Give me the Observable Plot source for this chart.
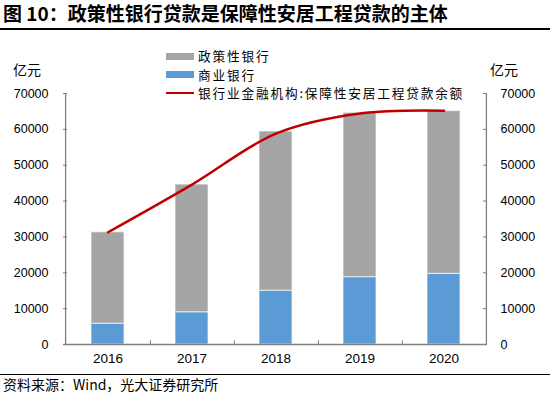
<!DOCTYPE html>
<html><head><meta charset="utf-8">
<script src="https://cdn.jsdelivr.net/npm/d3@7"></script>
<script src="https://cdn.jsdelivr.net/npm/@observablehq/plot@0.6"></script>
<style>
body{margin:0;background:#fff;}
#wrap{position:relative;width:550px;height:394px;overflow:hidden;font-family:"Noto Sans CJK SC","Noto Sans",sans-serif;color:#000;}
#title{position:absolute;left:3px;top:1px;font-size:19px;font-weight:bold;line-height:24px;white-space:nowrap;}
#trule{position:absolute;left:0;top:28px;width:550px;height:2px;background:#000;}
#chart{position:absolute;left:0;top:30px;}
.unit{position:absolute;top:60px;font-size:14px;line-height:18px;}
.leg{position:absolute;left:166px;height:18px;white-space:nowrap;}
.leg .sw{position:absolute;left:0;width:28px;}
.leg .t{position:absolute;left:32px;top:0;height:18px;font-size:12.7px;letter-spacing:1.8px;line-height:18px;}
#crule{position:absolute;left:0;top:374px;width:550px;height:1px;background:#000;}
#caption{position:absolute;left:3px;top:375px;font-size:14px;line-height:18px;white-space:nowrap;}
</style></head><body>
<div id="wrap">
<div id="title">图 10：政策性银行贷款是保障性安居工程贷款的主体</div>
<div id="trule"></div>
<div id="chart"></div>
<div class="unit" style="left:13px">亿元</div>
<div class="unit" style="left:490px">亿元</div>
<div class="leg" style="top:47px"><div class="sw" style="top:5.5px;height:7px;background:#A5A5A5"></div><div class="t">政策性银行</div></div>
<div class="leg" style="top:65.5px"><div class="sw" style="top:5.5px;height:7px;background:#5B9BD5"></div><div class="t">商业银行</div></div>
<div class="leg" style="top:84px"><div class="sw" style="top:8px;height:2px;background:#C00000"></div><div class="t">银行业金融机构:保障性安居工程贷款余额</div></div>
<div id="crule"></div>
<div id="caption">资料来源：Wind，光大证券研究所</div>
</div>
<script>
const years = ["2016", "2017", "2018", "2019", "2020"];
const commercial = [5800, 9000, 15000, 18800, 19700];
const policy = [25500, 35600, 44400, 45800, 45400];
const balance = [31300, 44600, 58800, 64400, 65200];
const yTicks = [0, 10000, 20000, 30000, 40000, 50000, 60000, 70000];
const seriesNames = ["商业银行", "政策性银行"];
const seriesColors = ["#5B9BD5", "#A5A5A5"];

const rows = years.flatMap((y, i) => [
  {year: y, type: seriesNames[0], value: commercial[i]},
  {year: y, type: seriesNames[1], value: policy[i]}
]);
const lineRows = years.map((y, i) => ({year: y, value: balance[i]}));

const W = 550, H = 342, mL = 63, mR = 63, mT = 63, mB = 28;
const frameW = W - mL - mR;
const half = frameW / years.length / 2;
const axisColor = "#7f7f7f";
const numFont = "'Liberation Sans', Arial, sans-serif";

const chart = Plot.plot({
  width: W, height: H,
  marginLeft: mL, marginRight: mR, marginTop: mT, marginBottom: mB,
  style: {fontFamily: numFont, fontSize: "12.5px", color: "#000", background: "transparent"},
  x: {domain: years, paddingInner: 0.61, paddingOuter: 0.305, axis: null},
  y: {domain: [0, 70000], axis: null},
  color: {domain: seriesNames, range: seriesColors},
  marks: [
    Plot.barY(rows, {x: "year", y: "value", fill: "type", stroke: "white", strokeOpacity: 0.55, strokeWidth: 1.2}),
    Plot.line(lineRows, {x: "year", y: "value", stroke: "#C00000", strokeWidth: 2.5, curve: "catmull-rom"}),
    Plot.tickY(yTicks, {y: d => d, insetRight: frameW - 4, stroke: axisColor}),
    Plot.tickY(yTicks, {y: d => d, insetLeft: frameW - 4, stroke: axisColor}),
    Plot.ruleX([years[0]], {x: d => d, dx: -half, y1: 0, y2: 70000, stroke: axisColor, strokeWidth: 1.3}),
    Plot.ruleX([years[years.length - 1]], {x: d => d, dx: half, y1: 0, y2: 70000, stroke: axisColor, strokeWidth: 1.3}),
    Plot.ruleX(years.slice(0, -1), {x: d => d, dx: half, y1: 0, y2: 1100, stroke: axisColor}),
    Plot.ruleY([0], {stroke: axisColor, strokeWidth: 1.3}),
    Plot.axisY(yTicks, {anchor: "left", label: null, tickSize: 0, tickPadding: 15, tickFormat: d => String(d), fontSize: 12.5}),
    Plot.axisY(yTicks, {anchor: "right", label: null, tickSize: 0, tickPadding: 13, tickFormat: d => String(d), fontSize: 12.5}),
    Plot.axisX({anchor: "bottom", label: null, tickSize: 0, tickPadding: 9, fontSize: 13.5})
  ]
});
document.getElementById("chart").appendChild(chart);
</script>
</body></html>
